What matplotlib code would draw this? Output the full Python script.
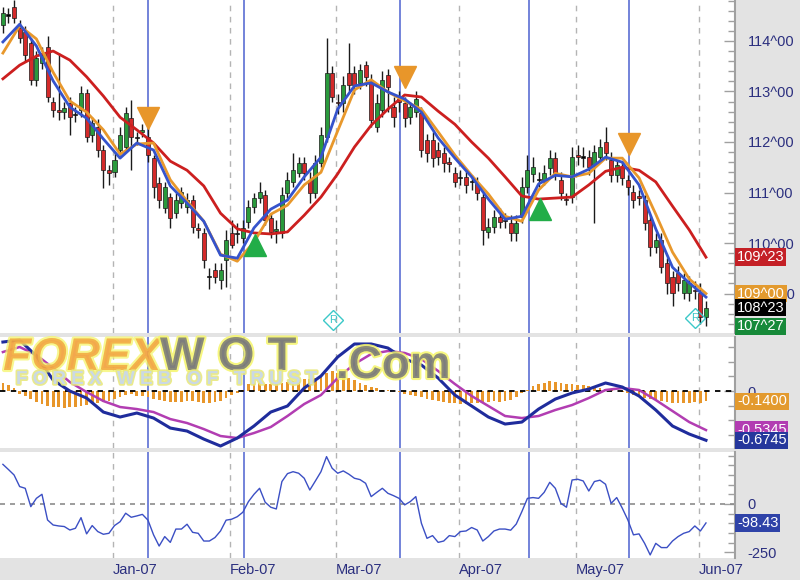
import matplotlib
matplotlib.use('Agg')
import matplotlib.pyplot as plt
import matplotlib.patheffects as pe
from matplotlib.ticker import MultipleLocator, FixedLocator, FuncFormatter
import numpy as np

plt.rcParams['font.family'] = ['Liberation Sans', 'DejaVu Sans']

# daily bars, 1 Dec 2006 .. 1 Jun 2007 (index = trading day)
opens = [114.32, 114.50, 114.67, 114.25, 114.18, 113.96, 113.23, 113.56, 113.88, 112.79,
         112.63, 112.60, 112.77, 112.55, 112.63, 112.97, 112.14, 112.30, 111.84, 111.44,
         111.40, 111.84, 111.90, 112.47, 112.10, 112.20, 112.10, 111.68, 111.19, 110.69,
         110.91, 110.59, 110.79, 110.71, 110.85, 110.30, 110.20, 109.35, 109.46, 109.27,
         109.66, 110.20, 110.20, 110.10, 110.42, 110.71, 110.89, 110.95, 110.49, 110.24,
         110.20, 110.99, 111.21, 111.38, 111.58, 111.25, 110.99, 111.58, 112.10, 113.36,
         112.79, 112.77, 113.36, 113.36, 113.17, 113.52, 113.23, 112.30, 112.63, 113.33,
         112.70, 112.85, 112.77, 112.49, 112.60, 112.57, 112.04, 112.04, 111.84, 111.78,
         111.60, 111.38, 111.31, 111.31, 111.22, 111.19, 110.91, 110.22, 110.32, 110.52,
         110.46, 110.39, 110.20, 110.51, 111.11, 111.36, 111.27, 111.25, 111.48, 111.68,
         111.25, 110.87, 110.91, 111.74, 111.71, 111.70, 111.54, 111.70, 112.00, 111.64,
         111.35, 111.50, 111.25, 111.01, 110.93, 110.85, 110.45, 109.92, 110.06, 109.60,
         109.33, 109.40, 109.01, 109.01, 109.08, 109.01, 108.53]
highs = [114.67, 114.65, 114.81, 114.41, 114.30, 114.05, 113.80, 113.88, 114.10, 112.90,
         113.76, 112.80, 112.90, 112.70, 113.10, 113.05, 112.50, 112.45, 111.95, 111.55,
         111.80, 112.30, 112.70, 112.83, 112.20, 112.35, 112.30, 111.75, 111.30, 111.20,
         111.00, 111.00, 111.10, 111.00, 110.95, 110.40, 110.30, 109.50, 109.60, 109.60,
         110.26, 110.45, 110.40, 110.45, 110.85, 111.00, 111.21, 111.05, 110.60, 110.45,
         111.10, 111.40, 111.78, 111.70, 111.70, 111.40, 111.75, 112.30, 114.06, 113.50,
         112.95, 113.30, 113.96, 113.50, 113.55, 113.60, 113.35, 112.95, 113.40, 113.45,
         112.90, 113.00, 112.90, 112.80, 113.00, 112.70, 112.15, 112.20, 112.00, 111.90,
         111.70, 111.50, 111.45, 111.45, 111.35, 111.30, 111.00, 110.50, 110.65, 110.70,
         110.60, 110.55, 110.55, 111.30, 111.75, 111.70, 111.40, 111.55, 111.85, 111.80,
         111.40, 111.00, 111.90, 111.95, 111.90, 111.85, 111.95, 112.05, 112.30, 111.80,
         111.65, 111.60, 111.35, 111.15, 111.05, 110.95, 110.55, 110.20, 110.20, 109.70,
         109.45, 109.55, 109.40, 109.35, 109.25, 109.20, 108.85]
lows = [114.16, 114.35, 114.35, 113.95, 113.60, 113.13, 113.10, 113.45, 112.80, 112.50,
        112.43, 112.45, 112.14, 112.40, 112.50, 112.00, 112.00, 111.70, 111.09, 111.15,
        111.30, 111.75, 111.80, 111.44, 111.95, 112.10, 111.60, 110.90, 110.70, 110.60,
        110.30, 110.50, 110.70, 110.60, 110.20, 110.10, 109.50, 109.10, 109.20, 109.10,
        109.13, 109.90, 110.00, 110.00, 110.30, 110.60, 110.80, 110.35, 110.10, 110.00,
        110.10, 110.90, 111.10, 111.30, 111.25, 110.80, 110.90, 111.50, 112.00, 112.80,
        112.55, 112.60, 113.00, 112.95, 113.05, 113.10, 112.30, 112.20, 112.50, 112.60,
        112.30, 112.60, 112.30, 112.35, 112.50, 111.70, 111.60, 111.50, 111.55, 111.40,
        111.40, 111.10, 111.15, 111.00, 111.05, 110.85, 109.96, 110.10, 110.20, 110.30,
        110.30, 110.05, 110.05, 110.40, 111.00, 111.20, 111.10, 111.15, 111.35, 111.25,
        110.85, 110.75, 110.80, 111.55, 111.50, 111.35, 110.40, 111.60, 111.65, 111.20,
        111.20, 111.15, 110.95, 110.70, 110.75, 110.25, 109.75, 109.80, 109.40, 109.00,
        108.75, 109.05, 108.90, 108.85, 108.90, 108.40, 108.35]
closes = [114.55, 114.52, 114.45, 114.06, 113.72, 113.23, 113.66, 113.72, 112.89, 112.63,
          112.60, 112.67, 112.49, 112.53, 112.97, 112.10, 112.37, 111.84, 111.44, 111.38,
          111.64, 112.14, 112.57, 112.10, 112.08, 112.24, 111.74, 111.11, 110.85, 111.11,
          110.49, 110.85, 111.01, 110.85, 110.32, 110.26, 109.66, 109.33, 109.33, 109.46,
          110.06, 109.96, 110.18, 110.30, 110.71, 110.89, 111.01, 110.45, 110.22, 110.27,
          110.95, 111.25, 111.44, 111.58, 111.38, 110.99, 111.58, 112.14, 113.36, 112.89,
          112.77, 113.13, 113.13, 113.13, 113.42, 113.28, 112.43, 112.77, 113.23, 113.09,
          112.50, 112.80, 112.47, 112.69, 112.85, 111.84, 111.78, 111.68, 111.70, 111.58,
          111.57, 111.21, 111.29, 111.15, 111.20, 110.99, 110.26, 110.32, 110.52, 110.42,
          110.44, 110.20, 110.39, 111.11, 111.44, 111.50, 111.25, 111.38, 111.68, 111.38,
          110.99, 110.85, 111.70, 111.70, 111.69, 111.50, 111.80, 111.90, 111.78, 111.35,
          111.54, 111.29, 111.11, 110.85, 110.90, 110.39, 109.92, 110.06, 109.52, 109.21,
          109.01, 109.21, 109.27, 109.21, 109.05, 108.53, 108.72]

# moving averages, read every third bar
ma_fast = [113.98, 114.33, 113.90, 113.21, 112.69, 112.47, 112.06, 111.68, 111.98, 111.84,
           111.13, 110.79, 110.43, 109.76, 109.70, 110.30, 110.67, 110.85, 111.31, 111.70,
           112.65, 113.11, 113.17, 112.99, 112.85, 112.59, 112.08, 111.68, 111.31, 110.87,
           110.47, 110.53, 111.17, 111.34, 111.31, 111.46, 111.70, 111.60, 111.15, 110.28,
           109.52, 109.21, 108.93]
ma_mid = [113.76, 114.30, 114.04, 113.38, 112.81, 112.59, 112.24, 111.76, 111.96, 111.98,
          111.25, 110.83, 110.43, 109.78, 109.64, 110.02, 110.57, 110.75, 111.15, 111.40,
          112.22, 113.03, 113.23, 112.99, 112.81, 112.65, 112.20, 111.74, 111.34, 110.97,
          110.53, 110.43, 111.05, 111.38, 111.31, 111.38, 111.68, 111.68, 111.29, 110.57,
          109.82, 109.29, 109.00]
ma_slow = [113.25, 113.52, 113.70, 113.80, 113.62, 113.29, 112.91, 112.49, 112.24, 111.98,
           111.62, 111.44, 111.13, 110.59, 110.28, 110.20, 110.18, 110.22, 110.55, 110.91,
           111.37, 111.90, 112.33, 112.65, 112.93, 112.89, 112.61, 112.35, 112.00, 111.68,
           111.31, 110.93, 110.87, 110.89, 110.91, 111.15, 111.42, 111.50, 111.44, 111.21,
           110.73, 110.26, 109.72]

# MACD lines (every third bar) and histogram (every bar)
macd = [0.671, 0.699, 0.479, 0.151, 0.0, -0.096, -0.288, -0.356, -0.301, -0.370,
        -0.507, -0.548, -0.658, -0.753, -0.644, -0.479, -0.288, -0.205, 0.041, 0.205,
        0.466, 0.644, 0.644, 0.589, 0.438, 0.356, 0.178, -0.055, -0.205, -0.356,
        -0.452, -0.425, -0.247, -0.110, -0.027, 0.027, 0.110, 0.055, -0.068, -0.260,
        -0.479, -0.589, -0.6745]
macd_signal = [0.534, 0.603, 0.493, 0.315, 0.123, -0.014, -0.137, -0.219, -0.247, -0.288,
               -0.384, -0.438, -0.521, -0.616, -0.644, -0.575, -0.493, -0.342, -0.178, -0.055,
               0.178, 0.370, 0.507, 0.548, 0.521, 0.438, 0.274, 0.096, -0.068, -0.205,
               -0.342, -0.370, -0.342, -0.260, -0.192, -0.096, 0.014, 0.041, 0.014, -0.123,
               -0.274, -0.425, -0.5345]
macd_hist = [0.11, 0.08, 0.04, -0.04, -0.07, -0.11, -0.15, -0.18, -0.21, -0.22,
             -0.22, -0.23, -0.22, -0.22, -0.21, -0.19, -0.18, -0.16, -0.15, -0.14,
             -0.11, -0.08, -0.05, -0.04, -0.07, -0.07, -0.08, -0.11, -0.12, -0.14,
             -0.15, -0.15, -0.15, -0.14, -0.14, -0.15, -0.16, -0.16, -0.15, -0.14,
             -0.10, -0.05, -0.03, 0.01, 0.10, 0.11, 0.11, 0.10, 0.10, 0.11,
             0.11, 0.12, 0.14, 0.15, 0.16, 0.16, 0.18, 0.21, 0.25, 0.27,
             0.25, 0.21, 0.18, 0.15, 0.11, 0.08, 0.05, 0.04, 0.01, 0.01,
             0.0, -0.01, -0.04, -0.05, -0.07, -0.08, -0.11, -0.12, -0.14, -0.15,
             -0.16, -0.16, -0.18, -0.18, -0.16, -0.16, -0.16, -0.15, -0.14, -0.15,
             -0.14, -0.12, -0.08, -0.03, 0.01, 0.07, 0.10, 0.11, 0.14, 0.12,
             0.11, 0.10, 0.10, 0.08, 0.08, 0.07, 0.05, 0.04, 0.03, 0.01,
             0.0, -0.01, -0.03, -0.05, -0.07, -0.10, -0.11, -0.12, -0.14, -0.15,
             -0.16, -0.16, -0.16, -0.16, -0.15, -0.16, -0.14]

cci = [205, 178, 150, 90, 81, -14, 29, 50, -83, -109,
       -114, -117, -135, -126, -71, -155, -112, -143, -157, -152,
       -112, -92, -48, -69, -62, -54, -84, -160, -218, -169,
       -199, -130, -130, -105, -147, -152, -192, -192, -174, -140,
       -84, -79, -66, -43, 12, 50, 81, 9, -17, -26,
       116, 157, 167, 159, 133, 72, 119, 167, 245, 185,
       159, 171, 154, 133, 126, 107, 38, 60, 81, 55,
       43, 29, -5, 12, 38, -100, -178, -164, -199, -192,
       -164, -169, -143, -140, -122, -135, -192, -169, -140, -130,
       -130, -136, -104, -40, 29, 33, 29, 60, 112, 81,
       3, -17, 124, 128, 119, 67, 116, 123, 102, 3,
       33, -22, -83, -160, -155, -204, -264, -204, -226, -226,
       -192, -169, -152, -143, -114, -140, -98.43]

month_start = [20, 41, 60, 82, 103, 125]
month_labels = ['Jan-07', 'Feb-07', 'Mar-07', 'Apr-07', 'May-07', 'Jun-07']
signal_bars = [26, 43.2, 71.2, 94.3, 112.2]
sell_x = [26, 72.1, 112.2]
sell_y = [112.48, 113.28, 111.96]
buy_x = [45.1, 96.2]
buy_y = [109.96, 110.67]
r_x = [59.1, 124]
r_y = [108.47, 108.51]

n = len(closes)
idx = np.arange(n)
ma_idx = np.arange(0, n, 3)

bg = '#e3e3e3'
navy = '#2b2f7f'


def fmt32(v, pos=None):
    whole = int(np.floor(v + 1e-9))
    return '%d^%02d' % (whole, round((v - whole) * 32))


fig = plt.figure(figsize=(8, 5.8), dpi=100, facecolor=bg)
ax1 = fig.add_axes([0, 0.4259, 0.91875, 0.5741])
ax2 = fig.add_axes([0, 0.2276, 0.91875, 0.1914], sharex=ax1)
ax3 = fig.add_axes([0, 0.0379, 0.91875, 0.1828], sharex=ax1)

for ax in (ax1, ax2, ax3):
    ax.set_facecolor('white')
    for s in ('top', 'left', 'bottom'):
        ax.spines[s].set_visible(False)
    ax.spines['right'].set_color('#a0a0a0')
    ax.spines['right'].set_linewidth(1.5)
    ax.yaxis.tick_right()
    ax.tick_params(axis='y', which='major', direction='in', length=8, width=1,
                   color='#a0a0a0', labelcolor=navy, labelsize=10.5, pad=9)
    ax.tick_params(axis='y', which='minor', direction='in', length=5, width=1, color='#a0a0a0')
    ax.tick_params(axis='x', which='both', bottom=False, labelbottom=False)
    for m in month_start:
        ax.axvline(m - 0.3, color='#b4b4b4', ls=(0, (4, 4)), lw=1, zorder=0)
    for s in signal_bars:
        ax.axvline(s, color='#4d62cf', lw=1.1, zorder=1)

# price panel
up = [c > o + 0.02 for o, c in zip(opens, closes)]
down = [c < o - 0.02 for o, c in zip(opens, closes)]
body_col = ['#2a9a3c' if u else ('#d42a2a' if d else 'black') for u, d in zip(up, down)]
ax1.vlines(idx, lows, highs, color='#1a1a1a', lw=1, zorder=2)
body_low = np.minimum(opens, closes)
body_h = np.maximum(np.abs(np.array(closes) - np.array(opens)), 0.025)
ax1.bar(idx, body_h, bottom=body_low, width=0.72, color=body_col, edgecolor='#1a1a1a',
        linewidth=0.5, zorder=3)
ax1.plot(ma_idx, ma_slow, color='#cc1f1f', lw=2, zorder=4)
ax1.plot(ma_idx, ma_mid, color='#e8982c', lw=2, zorder=5)
ax1.plot(ma_idx, ma_fast, color='#3553cc', lw=2, zorder=6)
ax1.plot(sell_x, sell_y, 'v', color='#e8962a', markersize=16.5, zorder=7)
ax1.plot(buy_x, buy_y, '^', color='#22ad48', markersize=16.5, zorder=7)
ax1.plot(r_x, r_y, 'D', mfc='none', mec='#3cc8c8', markersize=10, mew=1, zorder=7)
for x, y in zip(r_x, r_y):
    ax1.text(x, y, 'R', color='#3cc8c8', fontsize=8, ha='center', va='center', zorder=8)

ax1.set_xlim(-0.52, 131.2)
ax1.set_ylim(108.22, 114.81)
ax1.yaxis.set_major_locator(MultipleLocator(1))
ax1.yaxis.set_minor_locator(MultipleLocator(0.2))
ax1.yaxis.set_major_formatter(FuncFormatter(fmt32))

# MACD panel
ax2.bar(idx, macd_hist, width=0.5, color='#e8962a', zorder=2)
ax2.axhline(0, color='black', ls=(0, (3, 3)), lw=1.3, zorder=3)
ax2.plot(ma_idx, macd_signal, color='#b23db2', lw=1.8, zorder=4)
ax2.plot(ma_idx, macd, color='#1f2c9c', lw=2.2, zorder=5)
ax2.set_ylim(-0.78, 0.74)
ax2.yaxis.set_major_locator(FixedLocator([0]))
ax2.yaxis.set_minor_locator(MultipleLocator(0.2))
ax2.yaxis.set_major_formatter(FuncFormatter(lambda v, p: '%d' % v))

# CCI panel
ax3.axhline(0, color='#8c8c8c', ls=(0, (3, 3)), lw=1.2, zorder=2)
ax3.plot(idx, cci, color='#3b4fc4', lw=1, zorder=3)
ax3.set_ylim(-280, 269)
ax3.yaxis.set_major_locator(FixedLocator([0, -250]))
ax3.yaxis.set_minor_locator(MultipleLocator(50))
ax3.yaxis.set_major_formatter(FuncFormatter(lambda v, p: '%d' % v))

for m, lab in zip(month_start, month_labels):
    ax3.text(m - 0.3, -0.113, lab, transform=ax3.get_xaxis_transform(), ha='left',
             va='center', color=navy, fontsize=10.5, clip_on=False)


def value_box(ax, y, text, color):
    ax.annotate(text, xy=(1, y), xycoords=('axes fraction', 'data'), xytext=(1.5, 0),
                textcoords='offset points', ha='left', va='center', color='white',
                fontsize=10.5, annotation_clip=False, zorder=10,
                bbox=dict(boxstyle='square,pad=0.12', fc=color, ec='none'))


value_box(ax1, ma_slow[-1], fmt32(ma_slow[-1]), '#c42026')
value_box(ax1, ma_mid[-1], fmt32(ma_mid[-1]), '#e39a2e')
value_box(ax1, closes[-1], fmt32(closes[-1]), 'black')
value_box(ax1, 108.35, fmt32(107.84), '#178a3a')
value_box(ax2, macd_hist[-1], '%.4f' % -0.14, '#e39a2e')
value_box(ax2, macd_signal[-1], '%.4f' % macd_signal[-1], '#b23db2')
value_box(ax2, macd[-1], '%.4f' % macd[-1], '#26379c')
value_box(ax3, cci[-1], '%.2f' % cci[-1], '#2f43a8')

# watermark logo
stroke = [pe.withStroke(linewidth=3, foreground='#f5f56a')]
fig.text(0.004, 1 - 370 / 580, 'FOREX', fontsize=33, fontweight='bold', style='italic',
         color='#f2a341', alpha=0.75, path_effects=stroke, va='baseline')
fig.text(0.2, 1 - 370 / 580, 'W O T', fontsize=34, fontweight='bold', color='#7a7a7a',
         alpha=0.85, path_effects=stroke, va='baseline')
fig.text(0.42, 1 - 378 / 580, '.Com', fontsize=33, fontweight='bold', color='#7a7a7a',
         alpha=0.85, path_effects=stroke, va='baseline')
fig.text(0.02, 1 - 384 / 580, 'F O R E X   W E B   O F   T R U S T', fontsize=13.5,
         fontweight='bold', color='#c8d8f0', alpha=0.9,
         path_effects=[pe.withStroke(linewidth=2.5, foreground='#e8e880')], va='baseline')

fig.savefig('out.png', dpi=100, facecolor=bg)
